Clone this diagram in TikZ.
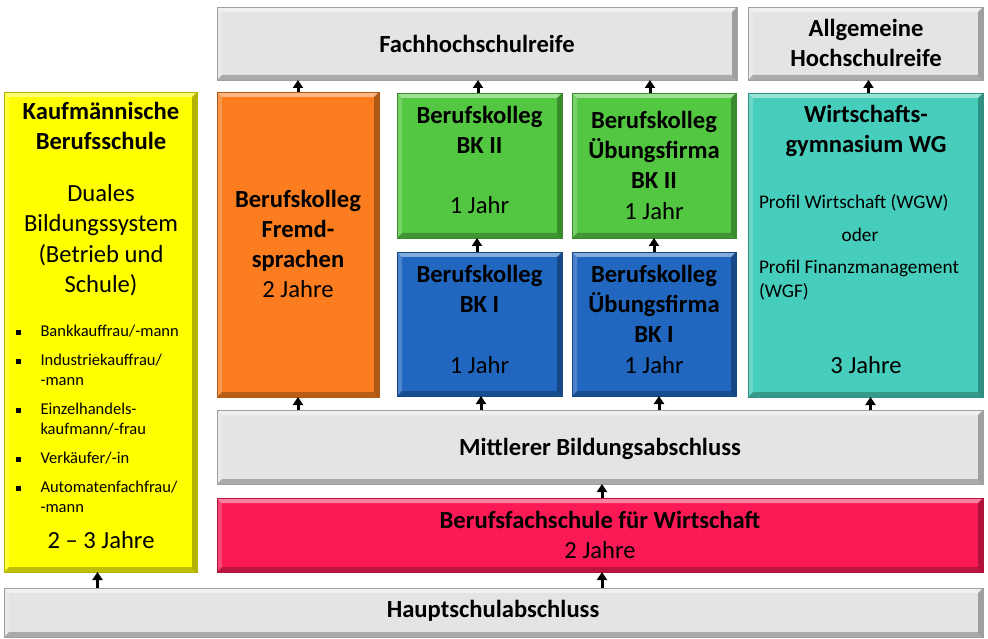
\documentclass[tikz,border=0pt]{standalone}
\usepackage{fontspec}
\setmainfont{Carlito}
\usetikzlibrary{arrows.meta,calc}
\definecolor{cgray}{HTML}{E4E4E4}
\definecolor{cyel}{HTML}{FFFF00}
\definecolor{corange}{HTML}{FB7D1F}
\definecolor{cgreen}{HTML}{54C742}
\definecolor{cblue}{HTML}{2167C0}
\definecolor{cteal}{HTML}{47CDBB}
\definecolor{cpink}{HTML}{FB1A55}
\newcommand\fB{\fontsize{24.6}{30}\selectfont\bfseries}
\newcommand\fR{\fontsize{24.6}{30}\selectfont}
\newcommand\fS{\fontsize{16.5}{20}\selectfont}
\newcommand\fP{\fontsize{19.3}{23.5}\selectfont}
\newcommand\bul{\llap{\rule[1.5pt]{5pt}{5pt}\hspace{19pt}}}
\newcounter{tlc}
\newcommand\tline[3][]{\stepcounter{tlc}\edef\tlname{t\arabic{tlc}}\node[txt,#1] (\tlname) at (#2) {#3};}
\newcommand\bx[6]{\node[box, fill=#2, draw=#2!70!black, minimum width={(#5-#3)*1pt}, minimum height={(#6-#4)*1pt}] (#1) at ({(#3+#5)/2},{(#4+#6)/2}) {};}
\def\ppb{path picture bounding box}
\tikzset{
  bevel/.style={path picture={
    \fill[white,opacity=.45] (\ppb.north west) -- (\ppb.north east) -- ([shift={(-5pt,-5pt)}]\ppb.north east) -- ([shift={(5pt,-5pt)}]\ppb.north west) -- cycle;
    \fill[white,opacity=.2] (\ppb.north west) -- ([shift={(5pt,-5pt)}]\ppb.north west) -- ([shift={(5pt,5pt)}]\ppb.south west) -- (\ppb.south west) -- cycle;
    \fill[black,opacity=.25] (\ppb.south west) -- ([shift={(5pt,5pt)}]\ppb.south west) -- ([shift={(-5pt,5pt)}]\ppb.south east) -- (\ppb.south east) -- cycle;
    \fill[black,opacity=.3] (\ppb.south east) -- ([shift={(-5pt,5pt)}]\ppb.south east) -- ([shift={(-5pt,-5pt)}]\ppb.north east) -- (\ppb.north east) -- cycle;
  }},
  box/.style={rectangle, line width=0.8pt, inner sep=0pt, outer sep=0pt, bevel},
  txt/.style={anchor=base, inner sep=0pt, outer sep=0pt},
  arr/.style={-{Triangle[length=8pt,width=10pt]}, line width=3pt, black},
}
\begin{document}
\begin{tikzpicture}[x=1pt,y=-1pt]
\useasboundingbox (0,0) rectangle (988,639);
% boxes
\bx{fh}{cgray}{217}{7}{737}{80}
\bx{allg}{cgray}{748}{7}{983}{80}
\bx{yel}{cyel}{4}{92}{197}{572}
\bx{orange}{corange}{217}{92}{379}{397}
\bx{g1}{cgreen}{397}{93}{562}{238}
\bx{g2}{cgreen}{572}{93}{736}{238}
\bx{b1}{cblue}{397}{252}{562}{396}
\bx{b2}{cblue}{572}{252}{736}{396}
\bx{teal}{cteal}{748}{93}{983}{397}
\bx{mid}{cgray}{217}{410}{983}{484}
\bx{pink}{cpink}{217}{498}{983}{572}
\bx{haupt}{cgray}{4}{588}{983}{637}
% texts
\tline{477,53}{\fB Fachhochschulreife}
\tline{866,37}{\fB Allgemeine}
\tline{866,67}{\fB Hochschulreife}
\tline{101,120}{\fB Kaufmännische}
\tline{101,150}{\fB Berufsschule}
\tline{101,202}{\fR Duales}
\tline{101,232}{\fR Bildungssystem}
\tline{101,262}{\fR (Betrieb und}
\tline{101,292}{\fR Schule)}
\tline[anchor=base west]{40.5,336}{\fS\bul Bankkauffrau/-mann}
\tline[anchor=base west]{40.5,365}{\fS\bul Industriekauffrau/}
\tline[anchor=base west]{40.5,385}{\fS -mann}
\tline[anchor=base west]{40.5,414}{\fS\bul Einzelhandels-}
\tline[anchor=base west]{40.5,434}{\fS kaufmann/-frau}
\tline[anchor=base west]{40.5,463}{\fS\bul Verkäufer/-in}
\tline[anchor=base west]{40.5,492}{\fS\bul Automatenfachfrau/}
\tline[anchor=base west]{40.5,512}{\fS -mann}
\tline{101,548}{\fR 2 – 3 Jahre}
\tline{298,208}{\fB Berufskolleg}
\tline{298,238}{\fB Fremd-}
\tline{298,268}{\fB sprachen}
\tline{298,298}{\fR 2 Jahre}
\tline{479.5,124}{\fB Berufskolleg}
\tline{479.5,154}{\fB BK II}
\tline{479.5,214}{\fR 1 Jahr}
\tline{654,129}{\fB Berufskolleg}
\tline{654,159}{\fB Übungsfirma}
\tline{654,189}{\fB BK II}
\tline{654,220}{\fR 1 Jahr}
\tline{479.5,282}{\fB Berufskolleg}
\tline{479.5,312}{\fB BK I}
\tline{479.5,373}{\fR 1 Jahr}
\tline{654,282}{\fB Berufskolleg}
\tline{654,312}{\fB Übungsfirma}
\tline{654,342}{\fB BK I}
\tline{654,373}{\fR 1 Jahr}
\tline{866,123}{\fB Wirtschafts-}
\tline{866,153}{\fB gymnasium WG}
\tline[anchor=base west]{759,209}{\fP Profil Wirtschaft (WGW)}
\tline{860,241}{\fP oder}
\tline[anchor=base west]{759,273}{\fP Profil Finanzmanagement}
\tline[anchor=base west]{759,297}{\fP (WGF)}
\tline{866,373}{\fR 3 Jahre}
\tline{600,455}{\fB Mittlerer Bildungsabschluss}
\tline{600,528}{\fB Berufsfachschule für Wirtschaft}
\tline{600,558}{\fR 2 Jahre}
\tline{493,617}{\fB Hauptschulabschluss}
% arrows
\draw[arr] ([xshift=-3pt]yel.south |- haupt.north) -- ([xshift=-3pt]yel.south);
\draw[arr] ([xshift=2pt]pink.south |- haupt.north) -- ([xshift=2pt]pink.south);
\draw[arr] ([xshift=2pt]pink.north) -- ([xshift=2pt]mid.south);
\draw[arr] (orange.south |- mid.north) -- (orange.south);
\draw[arr] ([xshift=1.5pt]b1.south |- mid.north) -- ([xshift=1.5pt]b1.south);
\draw[arr] ([xshift=5pt]b2.south |- mid.north) -- ([xshift=5pt]b2.south);
\draw[arr] ([xshift=5pt]teal.south |- mid.north) -- ([xshift=5pt]teal.south);
\draw[arr] ([xshift=-2.5pt]b1.north) -- ([xshift=-2.5pt]g1.south);
\draw[arr] (b2.north) -- (g2.south);
\draw[arr] (orange.north) -- (orange.north |- fh.south);
\draw[arr] ([xshift=-1.5pt]g1.north) -- ([xshift=-1.5pt]g1.north |- fh.south);
\draw[arr] ([xshift=-4pt]g2.north) -- ([xshift=-4pt]g2.north |- fh.south);
\draw[arr] ([xshift=3pt]teal.north) -- ([xshift=3pt]allg.south);
\end{tikzpicture}
\end{document}
